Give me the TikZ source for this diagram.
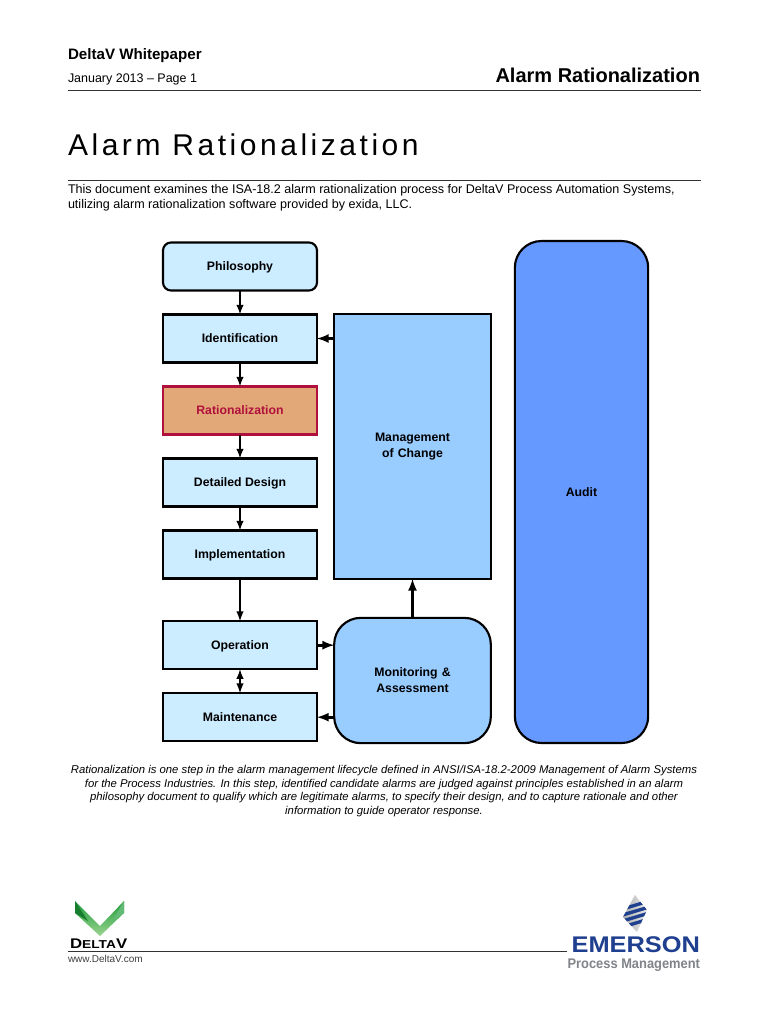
\documentclass[tikz,border=0pt]{standalone}
\usepackage{fontspec}
\setmainfont{Liberation Sans}
\usetikzlibrary{arrows,positioning,shapes}

\begin{document}
\begin{tikzpicture}[x=0.75pt,y=-0.75pt]
\tikzstyle{stage} = [rectangle, draw=black, line width=1.6pt, fill=stageblue, outer sep=0pt,
    minimum width=115.5pt, minimum height=36pt, text centered, text height=6.6pt, text depth=0pt,
    font=\fontsize{9.2}{12}\bfseries]
\tikzstyle{big} = [stage, fill=bigblue, minimum width=117.5pt, text width=110pt, text height=, text depth=]
\tikzstyle{line} = [draw, line width=1.5pt, -latex]
\tikzstyle{thick line} = [draw, line width=2pt, -latex]
\tikzstyle{plain} = [inner sep=0pt, outer sep=0pt]
\tikzstyle{rule} = [draw=black!80, line width=0.75pt]
\definecolor{stageblue}{HTML}{CCECFF}
\definecolor{bigblue}{HTML}{99CCFF}
\definecolor{auditblue}{HTML}{6699FF}
\definecolor{ratfill}{HTML}{E3A878}
\definecolor{ratred}{HTML}{B0103C}
\definecolor{emblue}{HTML}{1F3F8F}
\definecolor{emgrey}{HTML}{808488}
\definecolor{vdark}{HTML}{1E9C3A}
\definecolor{vlight}{HTML}{9AD48F}

\path [use as bounding box, fill=white] (0,0) rectangle (768,1024);

% header
\node [plain, anchor=base west, font=\fontsize{11.35}{13}\bfseries] (paper) at (68,60) {DeltaV Whitepaper};
\node [plain, anchor=base west, font=\fontsize{9.36}{11}\selectfont] (date) at (68,83) {January 2013 – Page 1};
\node [plain, anchor=base east, font=\fontsize{15}{17}\bfseries] (head) at (700,83) {Alarm Rationalization};
\coordinate (rule1l) at (68,91);
\coordinate (rule1r) at (701,91);
\draw [rule] (rule1l) -- (rule1r);

% title and text
\node [plain, anchor=base west, font=\fontsize{22.5}{26}\addfontfeature{LetterSpace=11.8}] (title) at (68,155) {Alarm Rationalization};
\coordinate (rule2l) at (68,180.5);
\coordinate (rule2r) at (701,180.5);
\draw [rule] (rule2l) -- (rule2r);
\node [plain, anchor=north west, align=left, font=\fontsize{9.42}{11.25}\selectfont] (intro) at (68,184)
    {This document examines the ISA-18.2 alarm rationalization process for DeltaV Process Automation Systems,\\
     utilizing alarm rationalization software provided by exida, LLC.};

% lifecycle
\node [stage, rounded corners=6pt] (philosophy) at (240,266.5) {Philosophy};
\node [stage, below=18pt of philosophy] (identification) {Identification};
\node [stage, below=18pt of identification, draw=ratred, fill=ratfill, text=ratred] (rationalization) {Rationalization};
\node [stage, below=18pt of rationalization] (design) {Detailed Design};
\node [stage, below=18pt of design] (implementation) {Implementation};
\node [stage, below=32pt of implementation] (operation) {Operation};
\node [stage, below=18pt of operation] (maintenance) {Maintenance};

\node [big, minimum height=198.5pt] (change) at (412.5,446.5) {Management\\of Change};
\node [big, minimum height=94pt, rounded corners=20pt] (monitoring) at (412.5,680.5) {Monitoring \&\\Assessment};
\node [big, fill=auditblue, minimum width=100pt, text width=90pt, minimum height=376.5pt, rounded corners=20pt] (audit) at (581.5,492) {Audit};

\path [line] (philosophy) -- (identification);
\path [line] (identification) -- (rationalization);
\path [line] (rationalization) -- (design);
\path [line] (design) -- (implementation);
\path [line] (implementation) -- (operation);
\path [line, latex-latex] (operation) -- (maintenance);
\path [thick line] (change.west |- identification) -- (identification);
\path [thick line] (operation) -- (monitoring.west |- operation);
\path [thick line] (monitoring.west |- maintenance) -- (maintenance);
\path [thick line] (monitoring) -- (change);

% caption
\node [plain, align=center, font=\fontsize{8.49}{10.3}\itshape] (caption) at (384,791)
    {Rationalization is one step in the alarm management lifecycle defined in ANSI/ISA-18.2-2009 Management of Alarm Systems\\
     for the Process Industries. In this step, identified candidate alarms are judged against principles established in an alarm\\
     philosophy document to qualify which are legitimate alarms, to specify their design, and to capture rationale and other\\
     information to guide operator response.};

% footer
\shade [top color=vdark, bottom color=vlight] (75,901) -- (100,926) -- (124,901) -- (124,913) -- (100,936) -- (75,913) -- cycle;
\fill [vdark!80!black] (75,901) -- (88,921) -- (75,913) -- cycle;
\fill [vdark!70!white] (124,901) -- (112,921) -- (124,913) -- cycle;
\node [plain, anchor=base west, font=\fontsize{10.5}{12}\bfseries\addfontfeature{FakeStretch=1.2}] (deltav) at (70,948)
    {D\fontsize{8.6}{12}\selectfont\addfontfeature{FakeStretch=1.2}ELTA\fontsize{10.5}{12}\selectfont\addfontfeature{FakeStretch=1.2}V};
\coordinate (rule3l) at (68,951.5);
\coordinate (rule3r) at (567,951.5);
\draw [rule] (rule3l) -- (rule3r);
\node [plain, anchor=base west, font=\fontsize{7.5}{9}\selectfont, text=black!75] (site) at (68,962) {www.DeltaV.com};

\begin{scope}
\clip (635,895) -- (647,910) -- (637,932) -- (623,917) -- cycle;
\shade [left color=black!35, right color=black!5] (620,893) rectangle (650,934);
\foreach \y in {908,914,920,926}
    \fill [emblue] (620,\y) -- (650,\y-9) -- (650,\y-5.5) -- (620,\y+3.5) -- cycle;
\end{scope}
\node [plain, anchor=base east, font=\fontsize{17}{20}\bfseries\addfontfeature{FakeStretch=1.12}, text=emblue] (emerson) at (700,952) {EMERSON};
\node [plain, anchor=base east, font=\fontsize{10.5}{12}\bfseries\addfontfeature{FakeStretch=0.92}, text=emgrey] (process) at (700,968) {Process Management};
\end{tikzpicture}
\end{document}
